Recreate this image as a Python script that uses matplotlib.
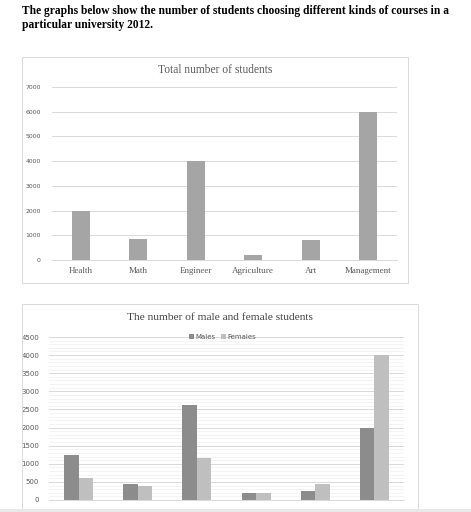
import numpy as np
import matplotlib
matplotlib.use("Agg")
import matplotlib.pyplot as plt
from matplotlib.patches import Rectangle
from matplotlib.ticker import MultipleLocator

courses = ["Health", "Math", "Engineer", "Agriculture", "Art", "Management"]
totals = [2000, 850, 4000, 200, 800, 6000]
males = [1250, 450, 2630, 200, 240, 2000]
females = [600, 390, 1160, 200, 440, 4000]

W, H = 471, 512
fig = plt.figure(figsize=(W / 100, H / 100), dpi=100)
fig.patch.set_facecolor("white")

def fx(px):
    return px / W

def fy(py):
    return 1 - py / H

serif = "Liberation Serif"
grey_txt = "#595959"
grid_c = "#d9d9d9"

fig.text(fx(22), fy(11), "The graphs below show the number of students choosing different kinds of courses in a",
         fontsize=8.3, fontweight="bold", family=serif, va="center", ha="left")
fig.text(fx(22), fy(25), "particular university 2012.",
         fontsize=8.3, fontweight="bold", family=serif, va="center", ha="left")

# chart frames
fig.add_artist(Rectangle((fx(22), fy(283)), fx(408 - 22), (283 - 57) / H, transform=fig.transFigure,
                         facecolor="none", edgecolor=grid_c, lw=0.7))
fig.add_artist(Rectangle((fx(22), fy(530)), fx(418 - 22), (530 - 304) / H, transform=fig.transFigure,
                         facecolor="none", edgecolor=grid_c, lw=0.7))

x = np.arange(len(courses))

# chart 1
ax1 = fig.add_axes([fx(52), fy(260), fx(397 - 52), (260 - 87) / H])
ax1.bar(x, totals, width=0.31, color="#a5a5a5", zorder=3)
ax1.set_xlim(-0.5, len(courses) - 0.5)
ax1.set_ylim(0, 7000)
ax1.set_yticks(np.arange(0, 7001, 1000))
ax1.set_xticks(x)
ax1.set_xticklabels(courses, family=serif, fontsize=6.5, color=grey_txt)
ax1.tick_params(axis="y", labelsize=4.4, labelcolor=grey_txt, length=0, pad=8)
ax1.tick_params(axis="x", length=0, pad=5)
ax1.grid(axis="y", color=grid_c, lw=0.7, zorder=0)
for s in ax1.spines.values():
    s.set_visible(False)
ax1.spines["bottom"].set_visible(True)
ax1.spines["bottom"].set_color(grid_c)
ax1.spines["bottom"].set_linewidth(0.7)
fig.text(fx(215), fy(70), "Total number of students", family=serif, fontsize=8.3,
         color=grey_txt, ha="center", va="center")

# chart 2
ax2 = fig.add_axes([fx(49), fy(500), fx(404 - 49), (500 - 337) / H])
bw = 0.245
ax2.bar(x - bw / 2, males, width=bw, color="#8c8c8c", label="Males", zorder=3)
ax2.bar(x + bw / 2, females, width=bw, color="#bfbfbf", label="Females", zorder=3)
ax2.set_xlim(-0.5, len(courses) - 0.5)
ax2.set_ylim(0, 4500)
ax2.set_yticks(np.arange(0, 4501, 500))
ax2.yaxis.set_minor_locator(MultipleLocator(100))
ax2.set_xticks(x)
ax2.set_xticklabels(courses, family=serif, fontsize=6.5, color=grey_txt)
ax2.tick_params(axis="y", which="both", labelsize=5, labelcolor=grey_txt, length=0, pad=7)
ax2.tick_params(axis="x", length=0, pad=8)
ax2.grid(axis="y", which="major", color=grid_c, lw=0.7, zorder=0)
ax2.grid(axis="y", which="minor", color="#efefef", lw=0.5, zorder=0)
for s in ax2.spines.values():
    s.set_visible(False)
ax2.spines["bottom"].set_visible(True)
ax2.spines["bottom"].set_color(grid_c)
ax2.spines["bottom"].set_linewidth(0.7)
leg = ax2.legend(loc="center", bbox_to_anchor=(0.49, 1.0), ncol=2, frameon=False,
                 fontsize=5, handlelength=0.6, handleheight=0.6, handletextpad=0.3,
                 columnspacing=0.8, labelcolor=grey_txt)
fig.text(fx(220), fy(318), "The number of male and female students", family=serif, fontsize=8.2,
         color="#404040", ha="center", va="center")

# page edge strip at the bottom
fig.add_artist(Rectangle((0, 0), 1, 3 / H, transform=fig.transFigure,
                         facecolor="#e8e8e8", edgecolor="none", zorder=10))

fig.savefig("out.png", dpi=100, facecolor="white")
